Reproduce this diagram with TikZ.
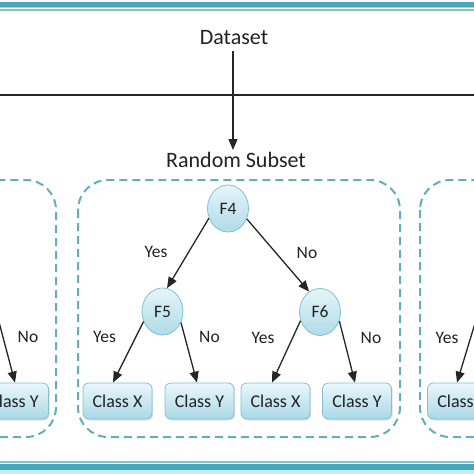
\documentclass[tikz,border=0pt]{standalone}
\usepackage{fontspec}
\setmainfont{Carlito}
\usetikzlibrary{arrows.meta,shapes.geometric,shadows,calc}
\definecolor{banddark}{HTML}{4AA6BF}
\definecolor{bandlight}{HTML}{9AD6E4}
\definecolor{bandthin}{HTML}{80C2D2}
\definecolor{bandpale}{HTML}{C5ECF5}
\definecolor{dashcol}{HTML}{62AEBE}
\definecolor{nodeborder}{HTML}{82C0D1}
\definecolor{feattop}{HTML}{E6F5FA}
\definecolor{featbot}{HTML}{AFDBE8}
\definecolor{boxtop}{HTML}{EAF7FB}
\definecolor{boxbot}{HTML}{ABD9E7}
\definecolor{txt}{HTML}{222222}
\tikzset{
  feat/.style={ellipse, draw=nodeborder, line width=0.8pt, top color=feattop, bottom color=featbot,
    minimum width=41pt, minimum height=47pt, inner sep=0pt, font=\fontsize{17.5}{17.5}\selectfont, text=txt},
  classbox/.style={rectangle, rounded corners=6pt, draw=nodeborder, line width=0.8pt,
    top color=boxtop, bottom color=boxbot,
    minimum width=69pt, minimum height=36pt, inner sep=0pt, font=\fontsize{18}{18}\selectfont, text=txt,
    drop shadow={shadow xshift=1.2pt, shadow yshift=-1.5pt, opacity=0.25}},
  lbl/.style={font=\fontsize{17.5}{17.5}\selectfont, text=txt, inner sep=0pt},
  big/.style={font=\fontsize{22}{22}\selectfont, text=txt, inner sep=1pt},
  conn/.style={draw=black!85, line width=1.3pt, -{Triangle[length=11pt,width=9pt]}},
  dashbox/.style={draw=dashcol, line width=2pt, dash pattern=on 8pt off 5pt, rounded corners=30pt},
}
\begin{document}
\begin{tikzpicture}[x=1pt,y=-1pt]
\useasboundingbox (0,0) rectangle (474,474);
\clip (0,0) rectangle (474,474);
\fill[white] (0,0) rectangle (474,474);
% bands
\fill[banddark] (0,2) rectangle (474,7);
\fill[bandlight] (0,7) rectangle (474,8.2);
\fill[bandthin] (0,9.4) rectangle (474,11);
\fill[bandthin] (0,461) rectangle (474,462.7);
\fill[banddark] (0,464.3) rectangle (474,470.3);
\fill[bandpale] (0,470.3) rectangle (474,474);
% dashed boxes
\draw[dashbox] (-280,180) rectangle (56,437);
\draw[dashbox] (78,180) rectangle (400,437);
\draw[dashbox] (420,180) rectangle (760,437);
% headings
\node[big] (ds) at (234,38) {Dataset};
\node[big] (rs) at (236,160) {Random Subset};
\coordinate (hl) at (0,95);
\coordinate (hr) at (474,95);
\draw[black!85, line width=1.3pt] (hl) -- (hr);
\draw[conn] (233,51) -- (233,150);
% tree nodes
\node[feat] (f4) at (228,208.5) {F4};
\node[feat] (f5) at (162.5,311.5) {F5};
\node[feat] (f6) at (320,312) {F6};
\node[classbox] (cl) at (14,401) {Class Y};
\node[classbox] (cx1) at (117.5,401) {Class X};
\node[classbox] (cy1) at (199.5,401) {Class Y};
\node[classbox] (cx2) at (275.5,401) {Class X};
\node[classbox] (cy2) at (357,401) {Class Y};
\node[classbox] (cr) at (462,401) {Class Y};
% connectors
\draw[conn] (f4.207) -- (f5.79);
\draw[conn] (f4.-29) -- (f6.118);
\draw[conn] (f5.208) -- ($(cx1.north)+(-4.5,0)$);
\draw[conn] (f5.-31) -- ($(cy1.north)+(-2.5,0)$);
\draw[conn] (f6.204) -- ($(cx2.north)+(-3.5,0)$);
\draw[conn] (f6.-25) -- ($(cy2.north)+(-2,0)$);
\coordinate (lfree) at (-1,322);
\coordinate (rfree) at (476,320);
\draw[conn] (lfree) -- ($(cl.north)+(1,0)$);
\draw[conn] (rfree) -- ($(cr.north)+(-5,0)$);
% labels
\node[lbl] (y1) at (156,252) {Yes};
\node[lbl] (n1) at (307,253) {No};
\node[lbl] (y2) at (104.5,337) {Yes};
\node[lbl] (n2) at (209.5,337) {No};
\node[lbl] (y3) at (263,338) {Yes};
\node[lbl] (n3) at (371,338) {No};
\node[lbl] (n0) at (28,337) {No};
\node[lbl] (y4) at (447,338) {Yes};
\end{tikzpicture}
\end{document}
